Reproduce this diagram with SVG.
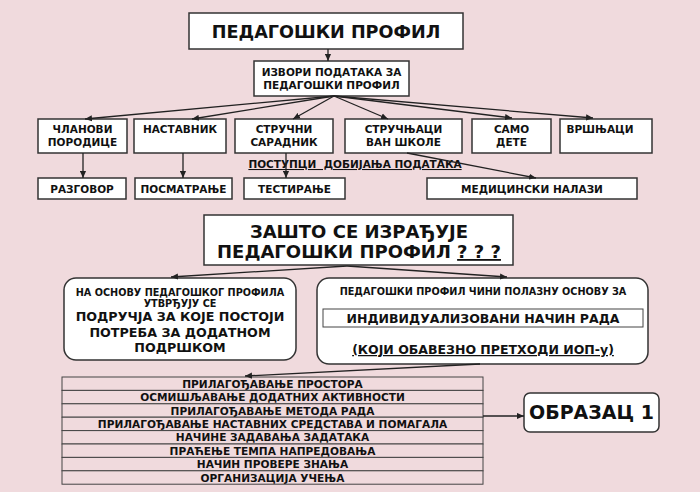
<svg xmlns="http://www.w3.org/2000/svg" width="700" height="492" viewBox="0 0 700 492">
<defs>
<style>
.bg{fill:#f0dadd}
.box{fill:#fff;stroke:#333;stroke-width:1.5}
.row{fill:#f0dadd;stroke:#444;stroke-width:1}
text{font-family:"DejaVu Sans","Verdana","Liberation Sans",sans-serif;font-weight:bold;fill:#111;text-anchor:middle}
.s105{font-size:10.5px}
.conn line{stroke:#222;stroke-width:1.3;marker-end:url(#ah)}
</style>
<marker id="ah" viewBox="0 0 8 8" refX="8" refY="4" markerWidth="7" markerHeight="7" markerUnits="userSpaceOnUse" orient="auto">
<path d="M0,0.5 L8,4 L0,7.5 z" fill="#222"/>
</marker>
</defs>
<rect class="bg" x="0" y="0" width="700" height="492"/>

<g id="n-profil"><rect class="box" x="189" y="13" width="274" height="36"/><text x="326" y="38" style="font-size:17.6px">ПЕДАГОШКИ ПРОФИЛ</text></g>
<g id="n-izvori"><rect class="box" x="254" y="61" width="155" height="35"/><text class="s105" x="331.5" y="76">ИЗВОРИ ПОДАТАКА ЗА</text><text class="s105" x="331.5" y="89">ПЕДАГОШКИ ПРОФИЛ</text></g>

<g id="n-clanovi"><rect class="box" x="38" y="119" width="89" height="34"/><text class="s105" x="82.5" y="133">ЧЛАНОВИ</text><text class="s105" x="82.5" y="146">ПОРОДИЦЕ</text></g>
<g id="n-nastavnik"><rect class="box" x="134" y="119" width="92" height="34"/><text class="s105" x="180" y="133">НАСТАВНИК</text></g>
<g id="n-strucni"><rect class="box" x="235" y="119" width="98" height="34"/><text class="s105" x="284" y="133">СТРУЧНИ</text><text class="s105" x="284" y="146">САРАДНИК</text></g>
<g id="n-strucnjaci"><rect class="box" x="345" y="119" width="117" height="34"/><text class="s105" x="403.5" y="133">СТРУЧЊАЦИ</text><text class="s105" x="403.5" y="146">ВАН ШКОЛЕ</text></g>
<g id="n-samo"><rect class="box" x="472" y="119" width="79" height="34"/><text class="s105" x="511.5" y="133">САМО</text><text class="s105" x="511.5" y="146">ДЕТЕ</text></g>
<g id="n-vrsnjaci"><rect class="box" x="560" y="119" width="92" height="34"/><text class="s105" x="600" y="133">ВРШЊАЦИ</text></g>

<g id="n-postupci"><text class="s105" x="355" y="168" style="text-decoration:underline">ПОСТУПЦИ&#160; ДОБИЈАЊА ПОДАТАКА</text></g>

<g id="n-razgovor"><rect class="box" x="38" y="178" width="88" height="21"/><text class="s105" x="82" y="193">РАЗГОВОР</text></g>
<g id="n-posmatranje"><rect class="box" x="135" y="178" width="97" height="21"/><text class="s105" x="183.5" y="193">ПОСМАТРАЊЕ</text></g>
<g id="n-testiranje"><rect class="box" x="244" y="178" width="101" height="21"/><text class="s105" x="294.5" y="193">ТЕСТИРАЊЕ</text></g>
<g id="n-medicinski"><rect class="box" x="427" y="178" width="210" height="21"/><text class="s105" x="532" y="193">МЕДИЦИНСКИ НАЛАЗИ</text></g>

<g id="n-zasto"><rect class="box" x="204" y="215" width="309" height="50"/><text x="359" y="238" style="font-size:18px">ЗАШТО СЕ ИЗРАЂУЈЕ</text><text x="359" y="258" style="font-size:18px">ПЕДАГОШКИ ПРОФИЛ <tspan style="text-decoration:underline">? ? ?</tspan></text></g>

<g id="n-osnova"><rect class="box" x="64" y="278" width="232" height="82" rx="12"/>
<text x="180" y="296" style="font-size:9.7px">НА ОСНОВУ ПЕДАГОШКОГ ПРОФИЛА</text>
<text x="180" y="307" style="font-size:9.7px">УТВРЂУЈУ СЕ</text>
<text x="180" y="321" style="font-size:12.7px">ПОДРУЧЈА ЗА КОЈЕ ПОСТОЈИ</text>
<text x="180" y="337" style="font-size:12.7px">ПОТРЕБА ЗА ДОДАТНОМ</text>
<text x="180" y="352" style="font-size:12.7px">ПОДРШКОМ</text></g>

<g id="n-polazna"><rect class="box" x="317" y="278" width="331" height="86" rx="12"/>
<text x="483" y="295" style="font-size:9.7px">ПЕДАГОШКИ ПРОФИЛ ЧИНИ ПОЛАЗНУ ОСНОВУ ЗА</text>
<rect x="323" y="309" width="320" height="18" fill="#fff" stroke="#444" stroke-width="1"/>
<text x="483" y="323" style="font-size:12.5px">ИНДИВИДУАЛИЗОВАНИ НАЧИН РАДА</text>
<text x="483" y="354" style="font-size:12.5px;text-decoration:underline">(КОЈИ ОБАВЕЗНО ПРЕТХОДИ ИОП-у)</text></g>

<g id="n-tabela" style="font-size:10.6px">
<rect class="row" x="62" y="377" width="421" height="13.4"/>
<rect class="row" x="62" y="390.4" width="421" height="13.4"/>
<rect class="row" x="62" y="403.8" width="421" height="13.4"/>
<rect class="row" x="62" y="417.2" width="421" height="13.4"/>
<rect class="row" x="62" y="430.6" width="421" height="13.4"/>
<rect class="row" x="62" y="444" width="421" height="13.4"/>
<rect class="row" x="62" y="457.4" width="421" height="13.4"/>
<rect class="row" x="62" y="470.8" width="421" height="13.4"/>
<text x="272.5" y="387.7">ПРИЛАГОЂАВАЊЕ ПРОСТОРА</text>
<text x="272.5" y="401.1">ОСМИШЉАВАЊЕ ДОДАТНИХ АКТИВНОСТИ</text>
<text x="272.5" y="414.5">ПРИЛАГОЂАВАЊЕ МЕТОДА РАДА</text>
<text x="272.5" y="427.9">ПРИЛАГОЂАВАЊЕ НАСТАВНИХ СРЕДСТАВА И ПОМАГАЛА</text>
<text x="272.5" y="441.3">НАЧИНЕ ЗАДАВАЊА ЗАДАТАКА</text>
<text x="272.5" y="454.7">ПРАЋЕЊЕ ТЕМПА НАПРЕДОВАЊА</text>
<text x="272.5" y="468.1">НАЧИН ПРОВЕРЕ ЗНАЊА</text>
<text x="272.5" y="481.5">ОРГАНИЗАЦИЈА УЧЕЊА</text>
</g>

<g id="n-obrazac"><rect class="box" x="524" y="393" width="135" height="39" rx="6"/><text x="591.5" y="419" style="font-size:19px">ОБРАЗАЦ 1</text></g>

<g id="connectors" class="conn">
<line x1="328" y1="49" x2="328" y2="61"/>
<line x1="334" y1="96" x2="85" y2="119"/>
<line x1="334" y1="96" x2="192" y2="119"/>
<line x1="334" y1="96" x2="293" y2="119"/>
<line x1="334" y1="96" x2="388" y2="119"/>
<line x1="334" y1="96" x2="512" y2="118"/>
<line x1="334" y1="96" x2="593" y2="118"/>
<line x1="83" y1="153" x2="83" y2="178"/>
<line x1="183" y1="153" x2="183" y2="178"/>
<line x1="286" y1="153" x2="286" y2="178"/>
<line x1="407" y1="153" x2="536" y2="178"/>
<line x1="347" y1="266" x2="171" y2="277"/>
<line x1="347" y1="266" x2="507" y2="277"/>
<line x1="480" y1="364" x2="245" y2="376"/>
<line x1="483" y1="416" x2="524" y2="416"/>
</g>
</svg>
